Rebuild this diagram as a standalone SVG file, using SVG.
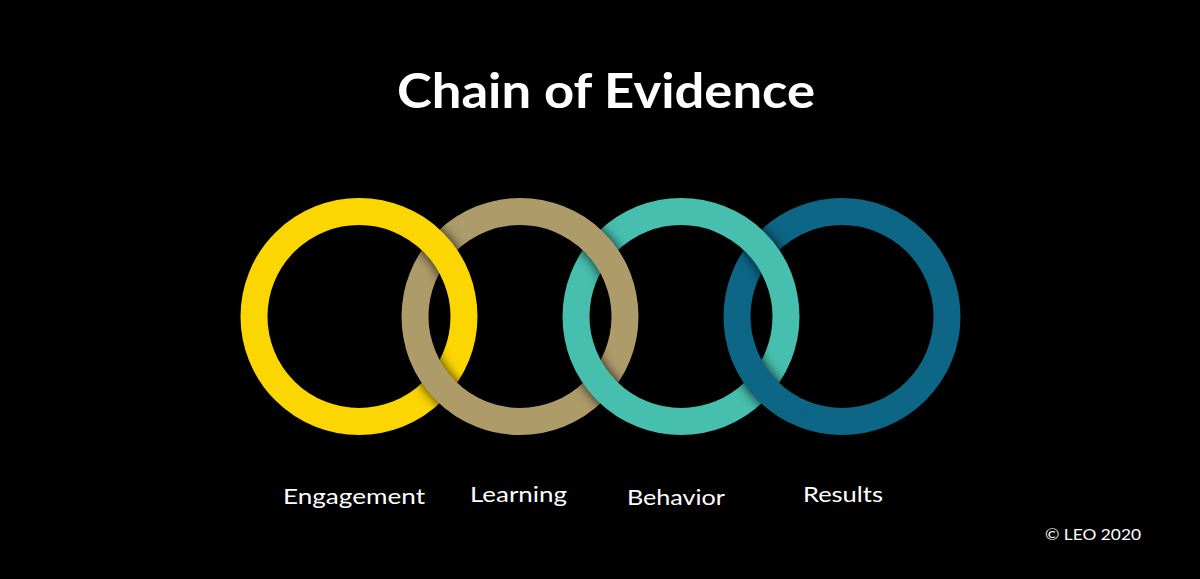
<svg xmlns="http://www.w3.org/2000/svg" width="1200" height="579" viewBox="0 0 1200 579">
<style>
.ring{fill:none;stroke-width:27}
.title{font-family:Lato,"Noto Sans",sans-serif;font-weight:700;font-size:48px;fill:#ffffff}
.label{font-family:Lato,"Noto Sans",sans-serif;font-size:21px;fill:#ffffff}
.copy{font-family:Lato,"Noto Sans",sans-serif;font-size:16px;fill:#ffffff}
</style>
<defs>
<filter id="sh" x="-20%" y="-20%" width="140%" height="140%">
<feDropShadow dx="0" dy="0" stdDeviation="6" flood-color="#000" flood-opacity="0.85"/>
</filter>
<radialGradient id="fade">
<stop offset="0.7" stop-color="#fff"/>
<stop offset="1" stop-color="#000"/>
</radialGradient>
<mask id="m1t" maskUnits="userSpaceOnUse" x="0" y="0" width="1200" height="579"><circle cx="440" cy="250" r="55" fill="url(#fade)"/></mask>
<mask id="m1b" maskUnits="userSpaceOnUse" x="0" y="0" width="1200" height="579"><circle cx="440" cy="382" r="55" fill="url(#fade)"/></mask>
<mask id="m2t" maskUnits="userSpaceOnUse" x="0" y="0" width="1200" height="579"><circle cx="601" cy="250" r="55" fill="url(#fade)"/></mask>
<mask id="m2b" maskUnits="userSpaceOnUse" x="0" y="0" width="1200" height="579"><circle cx="601" cy="382" r="55" fill="url(#fade)"/></mask>
<mask id="m3t" maskUnits="userSpaceOnUse" x="0" y="0" width="1200" height="579"><circle cx="762" cy="250" r="55" fill="url(#fade)"/></mask>
<mask id="m3b" maskUnits="userSpaceOnUse" x="0" y="0" width="1200" height="579"><circle cx="762" cy="382" r="55" fill="url(#fade)"/></mask>
</defs>
<rect width="1200" height="579" fill="#000"/>
<text class="title" x="606" y="108" text-anchor="middle" textLength="418" lengthAdjust="spacingAndGlyphs">Chain of Evidence</text>
<g id="rings">
<circle id="ring-engagement" class="ring" cx="359" cy="316.5" r="105" stroke="#FCD600"/>
<circle id="ring-learning" class="ring" cx="520" cy="316.5" r="105" stroke="#AE9B6A"/>
<circle id="ring-behavior" class="ring" cx="681" cy="316.5" r="105" stroke="#47BFAE"/>
<circle id="ring-results" class="ring" cx="842" cy="316.5" r="105" stroke="#0D6686"/>
</g>
<g id="crossings">
<g mask="url(#m1t)"><circle class="ring" cx="359" cy="316.5" r="105" stroke="#FCD600" filter="url(#sh)"/></g>
<g mask="url(#m1b)"><circle class="ring" cx="520" cy="316.5" r="105" stroke="#AE9B6A" filter="url(#sh)"/></g>
<g mask="url(#m2t)"><circle class="ring" cx="520" cy="316.5" r="105" stroke="#AE9B6A" filter="url(#sh)"/></g>
<g mask="url(#m2b)"><circle class="ring" cx="681" cy="316.5" r="105" stroke="#47BFAE" filter="url(#sh)"/></g>
<g mask="url(#m3t)"><circle class="ring" cx="681" cy="316.5" r="105" stroke="#47BFAE" filter="url(#sh)"/></g>
<g mask="url(#m3b)"><circle class="ring" cx="842" cy="316.5" r="105" stroke="#0D6686" filter="url(#sh)"/></g>
</g>
<g id="labels">
<text id="label-engagement" class="label" x="283" y="504" textLength="142" lengthAdjust="spacingAndGlyphs">Engagement</text>
<text id="label-learning" class="label" x="470" y="502" textLength="97" lengthAdjust="spacingAndGlyphs">Learning</text>
<text id="label-behavior" class="label" x="627" y="505" textLength="98" lengthAdjust="spacingAndGlyphs">Behavior</text>
<text id="label-results" class="label" x="803" y="502" textLength="80" lengthAdjust="spacingAndGlyphs">Results</text>
</g>
<text class="copy" x="1045" y="540" textLength="96" lengthAdjust="spacingAndGlyphs">© LEO 2020</text>
</svg>
